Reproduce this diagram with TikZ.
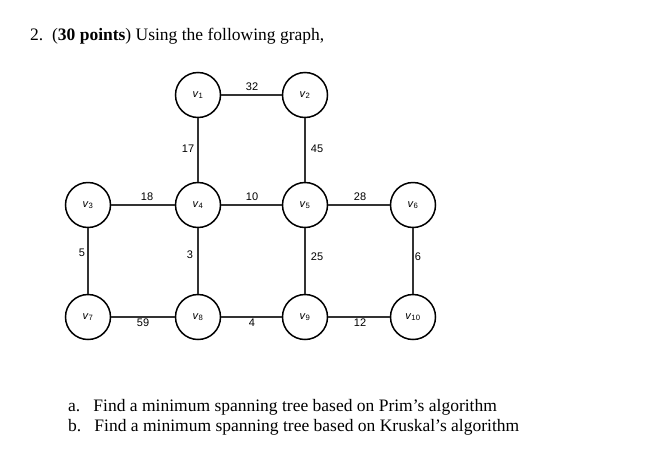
\documentclass[tikz,border=0pt]{standalone}
\usepackage{fontspec}
\setmainfont{Liberation Serif}
\newfontfamily\arialf{Liberation Sans}
\newcommand{\vv}[1]{\textit{v}\textsubscript{#1}}
\begin{document}
\begin{tikzpicture}[x=1pt,y=-1pt,
  vert/.style={circle,draw,line width=1.5pt,minimum size=45pt,inner sep=0pt,font=\arialf\fontsize{11}{12}\selectfont},
  edge/.style={line width=1.1pt,black!80},
  wt/.style={font=\arialf\fontsize{11}{12}\selectfont,inner sep=0pt},
  txt/.style={anchor=base west,inner sep=0pt,font=\fontsize{17.5}{20}\selectfont}]
\useasboundingbox (0,0) rectangle (652,466);
\node[txt] (title) at (30,40) {2.\ \ (\textbf{30 points}) Using the following graph,};
\node[vert] (v1) at (198,95) {\vv{1}};
\node[vert] (v2) at (305,95) {\vv{2}};
\node[vert] (v3) at (88,205) {\vv{3}};
\node[vert] (v4) at (198,205) {\vv{4}};
\node[vert] (v5) at (305,205) {\vv{5}};
\node[vert] (v6) at (413,205) {\vv{6}};
\node[vert] (v7) at (88,317) {\vv{7}};
\node[vert] (v8) at (198,317) {\vv{8}};
\node[vert] (v9) at (305,317) {\vv{9}};
\node[vert] (v10) at (413,317) {\vv{10}};
\draw[edge] (v1)--(v2); \draw[edge] (v1)--(v4); \draw[edge] (v2)--(v5);
\draw[edge] (v3)--(v4); \draw[edge] (v4)--(v5); \draw[edge] (v5)--(v6);
\draw[edge] (v3)--(v7); \draw[edge] (v4)--(v8); \draw[edge] (v5)--(v9); \draw[edge] (v6)--(v10);
\draw[edge] (v7)--(v8); \draw[edge] (v8)--(v9); \draw[edge] (v9)--(v10);
\node[wt] (w1) at (252,87) {32};
\node[wt] (w2) at (188,149) {17};
\node[wt] (w3) at (317,149) {45};
\node[wt] (w4) at (147,197) {18};
\node[wt] (w5) at (252,197) {10};
\node[wt] (w6) at (360,197) {28};
\node[wt] (w7) at (82,253) {5};
\node[wt] (w8) at (190,255) {3};
\node[wt] (w9) at (317,257) {25};
\node[wt] (w10) at (418,257) {6};
\node[wt] (w11) at (143,323) {59};
\node[wt] (w12) at (252,323) {4};
\node[wt] (w13) at (360,323) {12};
\node[txt] (qa) at (68,411) {a.\ \ \ Find a minimum spanning tree based on Prim’s algorithm};
\node[txt] (qb) at (68,431) {b.\ \ \ Find a minimum spanning tree based on Kruskal’s algorithm};
\end{tikzpicture}
\end{document}
